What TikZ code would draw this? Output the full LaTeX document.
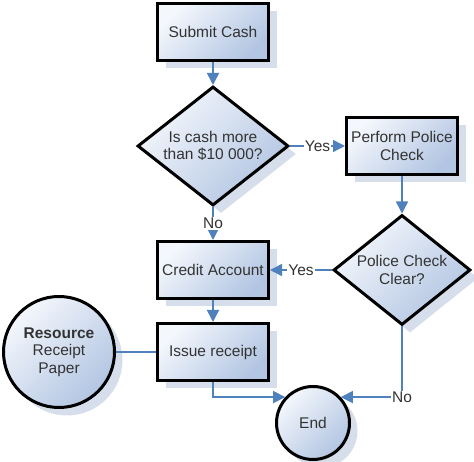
\documentclass[tikz,border=0pt]{standalone}
\usepackage{fontspec}
\setmainfont{Liberation Sans}
\usetikzlibrary{arrows.meta,shapes,shadows}
\definecolor{flowblue}{HTML}{4F81BD}
\definecolor{boxlight}{HTML}{F4F7FC}
\definecolor{boxdark}{HTML}{B2C5E2}
\definecolor{shadowblue}{HTML}{D6DEEC}

\begin{document}
\begin{tikzpicture}[node distance=2cm,>={Triangle[length=12pt,width=12pt]},
  font=\fontsize{15.5pt}{17.5pt}\selectfont]

    \useasboundingbox (0,0) rectangle (474pt,462pt);
    \tikzstyle{common}=[draw=black,line width=3pt,text=black!80,top color=boxlight,bottom color=boxdark,shading angle=45,
        drop shadow={shadow xshift=8pt,shadow yshift=-8pt,fill=shadowblue,opacity=1}]
    \tikzstyle{process}=[common,rectangle,minimum width=111pt,minimum height=57pt,inner sep=1pt,align=center]
    \tikzstyle{decision}=[common,diamond,aspect=1.3,inner sep=0pt,align=center]
    \tikzstyle{terminal}=[common,circle,inner sep=0pt,align=center]
    \tikzstyle{post}=[->,draw=flowblue,line width=1.5pt]
    \tikzstyle{line}=[draw=flowblue,line width=1.5pt]
    \tikzstyle{answer}=[fill=white,inner sep=1pt,text=black!80]

    \node [process] (submit) at (213pt,430pt) {Submit Cash};
    \node [decision,minimum width=151pt,minimum height=119pt] (q1) [below of=submit,node distance=114pt] {Is cash more\\than \$10 000?};
    \node [process] (perform) [right of=q1,node distance=189pt] {Perform Police\\Check};
    \node [decision,minimum width=137pt,minimum height=110pt] (q2) [below of=perform,node distance=124pt] {Police Check\\Clear?};
    \node [process] (credit) [below of=q1,node distance=124pt] {Credit Account};
    \node [process] (issue) [below of=credit,node distance=82pt] {Issue receipt};
    \node [terminal,minimum size=111pt] (res) [left of=issue,node distance=154pt] {\textbf{Resource}\\Receipt\\Paper};
    \node [terminal,minimum size=73pt] (endc) [below of=issue,node distance=71pt,xshift=100pt] {End};

    \draw [post] (submit) -- (q1);
    \draw [post] (q1) -- node [answer] {Yes} (perform);
    \draw [post] (perform) -- (q2);
    \draw [post] (q1) -- node [answer] {No} (credit);
    \draw [post] (q2) -- node [answer] {Yes} (credit);
    \draw [post] (credit) -- (issue);
    \draw [line] (res) -- (issue);
    \draw [post] (issue) |- (endc.137);
    \draw [post] (q2) |- node [answer] {No} (endc.43);
\end{tikzpicture}
\end{document}
